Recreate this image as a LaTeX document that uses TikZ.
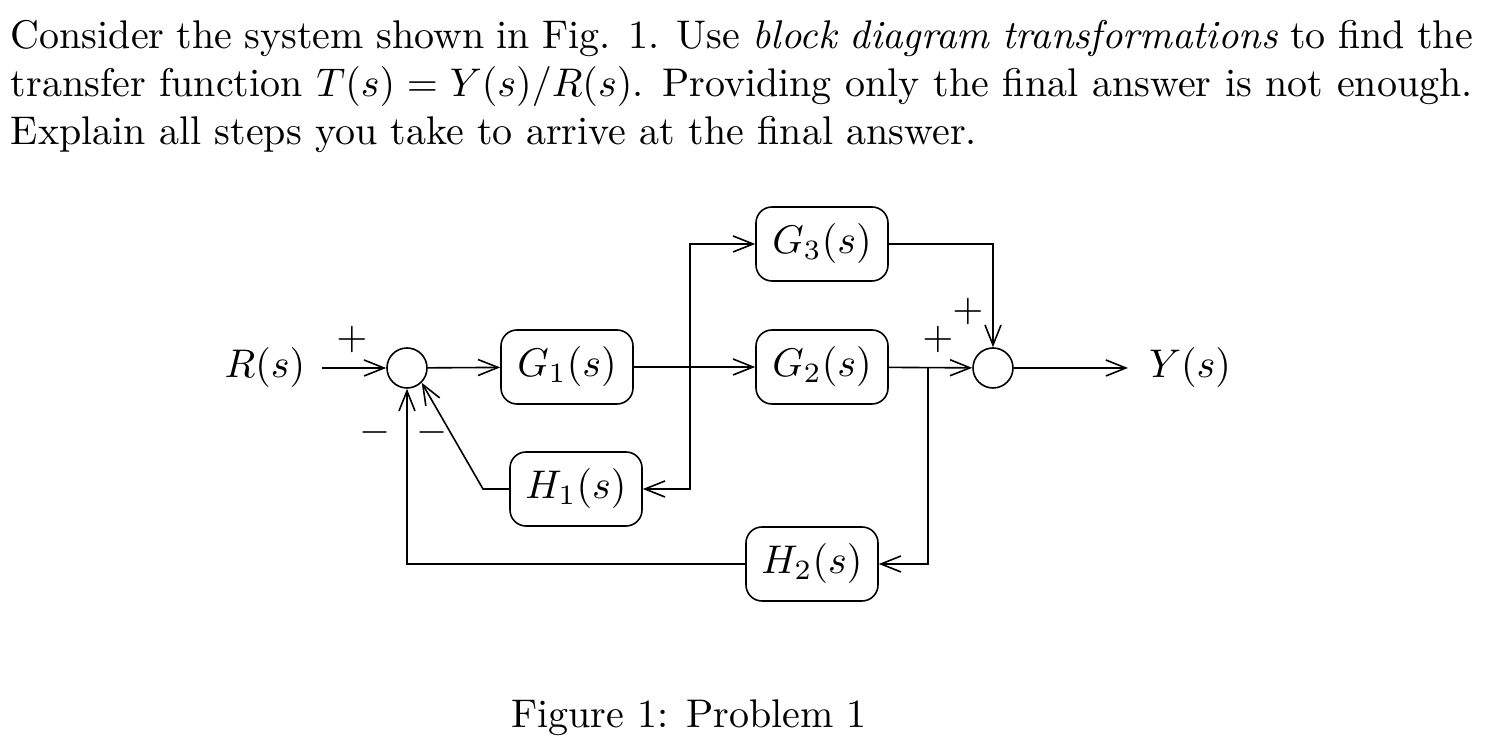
\documentclass[tikz,border=0pt]{standalone}
\usetikzlibrary{arrows.meta,calc}
\begin{document}
\begin{tikzpicture}[x=0.25pt,y=-0.25pt,
 blk/.style={draw,rounded corners=4pt,minimum width=33pt,minimum height=18.5pt,inner sep=0pt},
 sum/.style={draw,circle,minimum size=10pt,inner sep=0pt},
 arr/.style={-{Straight Barb[length=5pt,width=4pt]}},
 lbl/.style={inner sep=0pt}]
\useasboundingbox (0,0) rectangle (1512,755);
\node[anchor=north west,inner sep=0pt,text width=365.5pt,align=justify] (txt) at (10,20)
{Consider the system shown in Fig. 1. Use \emph{block diagram transformations} to find the transfer function $T(s)=Y(s)/R(s)$. Providing only the final answer is not enough. Explain all steps you take to arrive at the final answer.};
\node[lbl] (R) at (265,368) {$R(s)$};
\node[sum] (s1) at (407,368) {};
\node[blk] (G1) at (567,367) {$G_1(s)$};
\node[blk] (G2) at (822,367) {$G_2(s)$};
\node[blk] (G3) at (822,244) {$G_3(s)$};
\node[blk] (H1) at (576,489) {$H_1(s)$};
\node[blk] (H2) at (812,564) {$H_2(s)$};
\node[sum] (s2) at (993,368) {};
\node[lbl] (Y) at (1190,368) {$Y(s)$};
\coordinate (b1) at (690,367);
\coordinate (b2) at (928,367);
\coordinate (yend) at (1128,368);
\draw[arr] (322,368) -- (s1.west);
\draw[arr] (s1) -- (G1);
\draw[arr] (G1) -- (G2);
\draw[arr] (b1) |- (G3.west);
\draw[arr] (b1) |- (H1.east);
\draw[arr] (H1.west) -- (483,489) -- (s1.south east);
\draw[arr] (G2) -- (s2);
\draw[arr] (b2) |- (H2.east);
\draw[arr] (H2.west) -| (s1.south);
\draw[arr] (G3.east) -| (s2.north);
\draw[arr] (s2) -- (yend);
\node[lbl] at (352,340) {$+$};
\node[lbl] at (375,433) {$-$};
\node[lbl] at (432,433) {$-$};
\node[lbl] at (968,312) {$+$};
\node[lbl] at (938,340) {$+$};
\node[lbl] (cap) at (689,718) {Figure 1: Problem 1};
\end{tikzpicture}
\end{document}
